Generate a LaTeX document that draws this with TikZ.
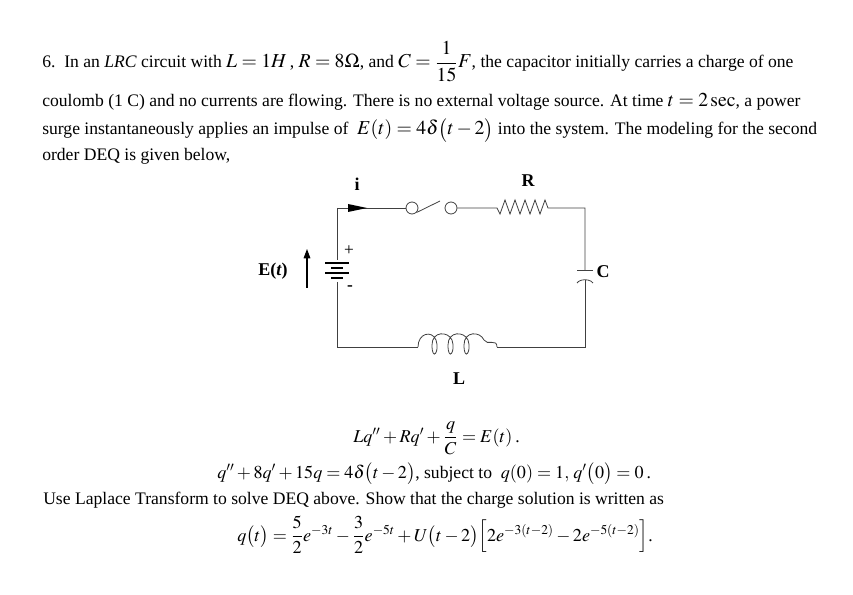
\documentclass[tikz,border=0pt]{standalone}
\usepackage{amsmath}
\usepackage{mathptmx}
\usepackage{fontspec}
\setmainfont{Liberation Serif}
\usetikzlibrary{arrows.meta}
\newcommand{\mm}[1]{{\fontsize{14.8}{17}\selectfont$#1$}}
\newcommand{\ms}[1]{{\fontsize{13.6}{16}\selectfont$#1$}}
\begin{document}
\begin{tikzpicture}[x=0.75pt,y=-0.75pt,
  txt/.style={anchor=base west,inner sep=0,font=\fontsize{13.2}{15}\selectfont},
  lbl/.style={inner sep=0,font=\fontsize{13.5}{15}\selectfont\bfseries},
  wire/.style={line width=0.6pt,draw=black!75}]
\useasboundingbox (0,0) rectangle (853,595);
\node[txt] (l1) at (42,68) {6.\ \ In an \textit{LRC} circuit with \mm{L=1H}\,, \mm{R=8\Omega}, and \mm{C=\dfrac{1}{15}F}, the capacitor initially carries a charge of one};
\node[txt] (l2) at (42,107) {coulomb (1 C) and no currents are flowing. There is no external voltage source. At time \mm{t=2\,\mathrm{sec}}, a power};
\node[txt] (l3) at (42,135) {surge instantaneously applies an impulse of \ \mm{E(t)=4\delta\bigl(t-2\bigr)} into the system. The modeling for the second};
\node[txt] (l4) at (42,161) {order DEQ is given below,};
% circuit
\coordinate (tl) at (337,208); \coordinate (tr) at (585,208);
\coordinate (bl) at (337,347); \coordinate (br) at (585,347);
\node[circle,draw=black!75,line width=0.6pt,minimum size=9pt,inner sep=0] (s1) at (412,208) {};
\node[circle,draw=black!75,line width=0.6pt,minimum size=9pt,inner sep=0] (s2) at (451,208) {};
\draw[wire] (tl) -- (337,260);
\draw[wire] (337,282) -- (bl) -- (418,347);
\draw[wire] (tl) -- (s1.west);
\draw[wire] (s1.south east) -- (440,201);
\draw[wire] (s2.east) -- (497,208) -- (500,214) -- (505,200) -- (510,214) -- (515,200) -- (520,214) -- (525,200) -- (530,214) -- (535,200) -- (540,214) -- (545,200) -- (548,208) -- (tr) -- (585,270);
\draw[wire] (577,270) -- (593,270);
\draw[wire] (577,283) arc (200:340:8.5 and 5);
\draw[wire] (585,280) -- (br) -- (497,347);
\draw[wire] (418,347) .. controls (418,333) and (432,330) .. (436,340) .. controls (440,352) and (432,362) .. (432,345) .. controls (432,331) and (448,331) .. (452,340) .. controls (456,352) and (448,362) .. (448,345) .. controls (448,331) and (464,331) .. (468,340) .. controls (472,352) and (464,362) .. (464,345) .. controls (464,331) and (480,331) .. (484,340) .. controls (487,346) and (497,338) .. (497,347);
\fill (348,204) -- (367,208) -- (348,212) -- cycle;
\draw[line width=1.1pt] (325,263) -- (349,263);
\draw[line width=1.1pt] (331,268) -- (343,268);
\draw[line width=1.1pt] (325,273) -- (349,273);
\draw[line width=1.1pt] (331,278) -- (343,278);
\node[inner sep=0,font=\fontsize{13}{14}\selectfont] (plus) at (349,251) {+};
\node[inner sep=0,font=\fontsize{13}{14}\selectfont\bfseries] (minus) at (350,288) {-};
\coordinate (a0) at (307,288); \coordinate (a1) at (307,249);
\draw[line width=0.8pt,-{Triangle[length=7pt,width=5pt]}] (a0) -- (a1);
\node[lbl] (E) at (273,271) {E(\textit{t})};
\node[lbl] (i) at (357,184) {i};
\node[lbl] (R) at (528,181) {R};
\node[lbl] (L) at (459,379) {L};
\node[lbl] (C) at (603,272) {C};
% equations
\node[txt] (e1) at (353,442) {\ms{Lq''+Rq'+\dfrac{q}{C}=E(t)}\,.};
\node[txt] (e2) at (217,478) {\ms{q''+8q'+15q=4\delta\bigl(t-2\bigr)}, subject to \ \ms{q(0)=1,\,q'\bigl(0\bigr)=0}\,.};
\node[txt] (e3) at (43,504) {Use Laplace Transform to solve DEQ above. Show that the charge solution is written as};
\node[txt] (e4) at (237,541) {\ms{q\bigl(t\bigr)=\dfrac{5}{2}e^{-3t}-\dfrac{3}{2}e^{-5t}+U\bigl(t-2\bigr)\Bigl[2e^{-3(t-2)}-2e^{-5(t-2)}\Bigr]}.};
\end{tikzpicture}
\end{document}
